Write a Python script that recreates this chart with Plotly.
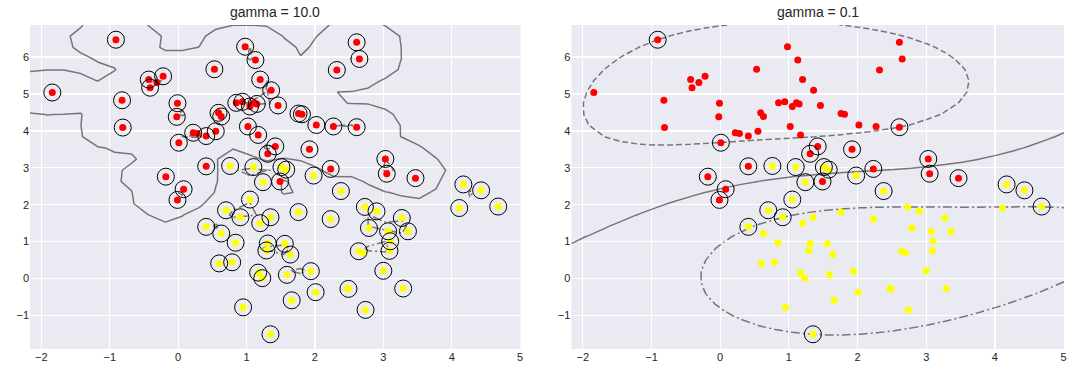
import numpy as np
import plotly.graph_objects as go

# ---- data ----
red_x = [-0.91, -0.43, -0.22, -0.31, -0.41, -1.84, -0.82, -0.01, -0.02, -0.81,
         0.22, 0.28, 0.98, 2.61, 2.65, 1.13, 0.53, 2.32, 1.20, 1.36,
         0.85, 0.94, 1.11, 1.15, 1.05, 1.46, 0.59, 0.63, 1.76, 1.81,
         1.02, 2.02, 2.27, 2.61, 0.55, 0.41, 1.17, 0.01, -0.18, 0.08,
         -0.01, 1.42, 1.31, 1.92, 0.41, 2.23, 1.49, 3.03, 3.05, 3.47]
red_y = [6.47, 5.39, 5.48, 5.31, 5.17, 5.04, 4.83, 4.75, 4.38, 4.09,
         3.95, 3.93, 6.28, 6.40, 5.95, 5.92, 5.67, 5.65, 5.39, 5.10,
         4.76, 4.79, 4.76, 4.73, 4.66, 4.69, 4.49, 4.39, 4.47, 4.45,
         4.12, 4.16, 4.12, 4.10, 3.99, 3.86, 3.89, 3.68, 2.76, 2.42,
         2.13, 3.58, 3.38, 3.50, 3.04, 2.97, 2.63, 3.24, 2.84, 2.72]
yellow_x = [0.76, 1.10, 1.51, 1.58, 1.98, 1.24, 2.38, 1.05, 0.70, 0.91,
            0.41, 0.63, 1.20, 1.35, 1.76, 2.23, 4.17, 4.43, 4.68, 4.11,
            2.73, 2.90, 3.27, 2.79, 3.07, 3.36, 0.84, 1.31, 1.56, 1.29,
            1.64, 2.64, 2.70, 0.60, 0.79, 1.17, 1.23, 1.59, 1.94, 2.47,
            2.01, 1.66, 0.95, 1.35, 3.10, 3.09, 3.00, 3.29, 2.74, 2.49]
yellow_y = [3.05, 3.02, 3.02, 2.95, 2.79, 2.61, 2.37, 2.14, 1.85, 1.66,
            1.40, 1.22, 1.50, 1.66, 1.80, 1.61, 2.55, 2.39, 1.95, 1.91,
            1.94, 1.82, 1.64, 1.37, 1.28, 1.28, 0.97, 0.95, 0.94, 0.76,
            0.65, 0.74, 0.70, 0.41, 0.44, 0.16, 0.01, 0.10, 0.20, -0.27,
            -0.37, -0.59, -0.78, -1.51, 1.01, 0.75, 0.21, -0.27, -0.85, -0.28]
gammas = [10.0, 0.1]
titles = ["gamma = 10.0", "gamma = 0.1"]
C_value = 1.0
levels = [-1, 0, 1]

# ---- RBF-kernel SVM (SMO) to get the decision function ----
X = np.column_stack([red_x + yellow_x, red_y + yellow_y])
t = np.array([-1.0] * len(red_x) + [1.0] * len(yellow_x))


def rbf(A, B, gamma):
    d2 = ((A[:, None, :] - B[None, :, :]) ** 2).sum(-1)
    return np.exp(-gamma * d2)


def fit_svm(X, t, gamma, C, tol=1e-3, max_iter=500000):
    n = len(t)
    K = rbf(X, X, gamma)
    Q = (t[:, None] * t[None, :]) * K
    a = np.zeros(n)
    G = -np.ones(n)
    eps = 1e-12
    for _ in range(max_iter):
        m = -t * G
        up = ((t > 0) & (a < C - eps)) | ((t < 0) & (a > eps))
        low = ((t > 0) & (a > eps)) | ((t < 0) & (a < C - eps))
        mu = np.where(up, m, -np.inf)
        ml = np.where(low, m, np.inf)
        i = int(np.argmax(mu))
        j = int(np.argmin(ml))
        if mu[i] - ml[j] < tol:
            break
        curv = max(K[i, i] + K[j, j] - 2 * K[i, j], 1e-12)
        step = (mu[i] - ml[j]) / curv
        bi = C - a[i] if t[i] > 0 else a[i]
        bj = a[j] if t[j] > 0 else C - a[j]
        step = min(step, bi, bj)
        a[i] += t[i] * step
        a[j] -= t[j] * step
        a = np.clip(a, 0, C)
        G += step * (t[i] * Q[:, i] - t[j] * Q[:, j])
    free = (a > 1e-8) & (a < C - 1e-8)
    if free.any():
        rho = np.mean(t[free] * G[free])
    else:
        rho = np.mean(t[a > 1e-8] * G[a > 1e-8])
    return a, rho


def margin(lo, hi):
    r = hi - lo
    return lo - 0.05 * r, hi + 0.05 * r


xlim = margin(X[:, 0].min(), X[:, 0].max())
ylim = margin(X[:, 1].min(), X[:, 1].max())
gx = np.linspace(xlim[0], xlim[1], 30)
gy = np.linspace(ylim[0], ylim[1], 30)
GX, GY = np.meshgrid(gx, gy)
grid = np.column_stack([GX.ravel(), GY.ravel()])

fig = go.Figure()
doms = [[0.0, 0.4744], [0.5236, 1.0]]
dash_styles = ["6px,3px", "solid", "9px,3px,2px,3px"]
annotations = []

for k, gamma in enumerate(gammas):
    xa = "x" if k == 0 else "x2"
    ya = "y" if k == 0 else "y2"
    alpha, rho = fit_svm(X, t, gamma, C_value)
    P = (rbf(grid, X, gamma) @ (alpha * t) - rho).reshape(GX.shape)
    sv = alpha > 1e-8

    fig.add_trace(go.Scatter(x=red_x, y=red_y, mode="markers", xaxis=xa, yaxis=ya,
                             marker=dict(color="#ff0000", size=7, line=dict(width=0)),
                             showlegend=False, hoverinfo="skip"))
    fig.add_trace(go.Scatter(x=yellow_x, y=yellow_y, mode="markers", xaxis=xa, yaxis=ya,
                             marker=dict(color="#ffff00", size=7, line=dict(width=0)),
                             showlegend=False, hoverinfo="skip"))
    for lvl, dsh in zip(levels, dash_styles):
        fig.add_trace(go.Contour(x=gx, y=gy, z=P, xaxis=xa, yaxis=ya,
                                 autocontour=False,
                                 contours=dict(start=lvl, end=lvl, size=1, coloring="none"),
                                 line=dict(color="rgba(0,0,0,0.5)", width=1.5, dash=dsh, smoothing=0),
                                 showscale=False, hoverinfo="skip"))
    fig.add_trace(go.Scatter(x=X[sv, 0], y=X[sv, 1], mode="markers", xaxis=xa, yaxis=ya,
                             marker=dict(color="rgba(0,0,0,0)", size=17,
                                         line=dict(color="black", width=1)),
                             showlegend=False, hoverinfo="skip"))
    annotations.append(dict(text=titles[k], x=sum(doms[k]) / 2, y=1.0, xref="paper", yref="paper",
                            xanchor="center", yanchor="bottom", yshift=3, showarrow=False,
                            font=dict(size=14, color="#262626")))

axis_common = dict(showgrid=True, gridcolor="white", gridwidth=1.2, zeroline=False,
                   showline=False, ticks="", dtick=1, ticklabeloverflow="allow",
                   tickfont=dict(size=11, color="#262626"))
fig.update_layout(
    width=1075, height=377,
    margin=dict(l=30, r=8, t=25, b=28),
    paper_bgcolor="white", plot_bgcolor="#EAEAF2",
    font=dict(family="Liberation Sans, Arial, sans-serif", color="#262626"),
    xaxis=dict(domain=doms[0], range=list(xlim), anchor="y", **axis_common),
    yaxis=dict(domain=[0, 1], range=list(ylim), anchor="x", **axis_common),
    xaxis2=dict(domain=doms[1], range=list(xlim), anchor="y2", **axis_common),
    yaxis2=dict(domain=[0, 1], range=list(ylim), anchor="x2", **axis_common),
    annotations=annotations,
    showlegend=False,
    hovermode=False,
)
fig.write_html("out.html",
               config={"displayModeBar": False, "staticPlot": True},
               post_script="document.body.style.margin='0px';document.body.style.padding='0px';")
